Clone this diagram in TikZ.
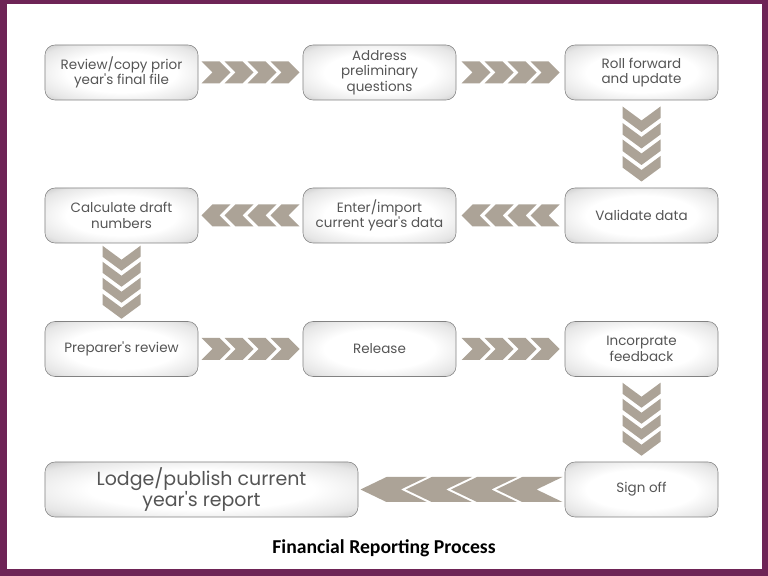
\documentclass[tikz,border=0pt]{standalone}
\usepackage{fontspec}
\setmainfont{Poppins}
\newfontfamily\titlefont{Carlito}
\usepackage{xcolor}
\usetikzlibrary{calc}
\definecolor{framepurple}{RGB}{110,36,86}
\definecolor{chevgray}{RGB}{172,163,151}
\definecolor{boxline}{RGB}{130,130,130}
\definecolor{boxtext}{RGB}{85,85,85}
\pgfdeclareradialshading{boxshade}{\pgfpoint{0bp}{0bp}}{color(0bp)=(white); color(18bp)=(white); color(30bp)=(black!10); color(40bp)=(black!30); color(50bp)=(black!45)}

\begin{document}
\begin{tikzpicture}[x=0.25mm, y=0.25mm,
  stage/.style={draw=boxline, rounded corners=2.5mm, shade, shading=boxshade,
    minimum width=38.25mm, minimum height=13.75mm, inner sep=1pt,
    align=center, text=boxtext, font=\fontsize{9.6}{11}\selectfont},
  pics/chevs/.style n args={3}{code={
    \pgfmathsetmacro\phalf{#2/2}
    \pgfmathsetmacro\pstep{(#1+5-#3)/4}
    \pgfmathsetmacro\pthick{\pstep-5}
    \foreach \k in {0,...,3}{
      \pgfmathsetmacro\xa{-#1/2+\k*\pstep}
      \fill[chevgray] (\xa,\phalf) -- ++(\pthick,0) -- ++(#3,-\phalf) -- ++(-#3,-\phalf)
        -- ++(-\pthick,0) -- ++(#3,\phalf) -- cycle;
    }
  }}]
\useasboundingbox (0,0) rectangle (768,576);
\fill[framepurple] (0,0) rectangle (768,576);
\fill[white] (7,7) rectangle (762,572);

% first row
\node[stage] (review) at (121.5,503.5) {Review/copy prior\\year\textquotesingle s final file};
\node[stage] (address) at (379.5,503.5) {Address\\preliminary\\questions};
\node[stage] (roll) at (641.5,503.5) {Roll forward\\and update};
% second row
\node[stage] (calc) at (121.5,360.5) {Calculate draft\\numbers};
\node[stage] (enter) at (379.5,360.5) {Enter/import\\current year\textquotesingle s data};
\node[stage] (validate) at (641.5,360.5) {Validate data};
% third row
\node[stage] (prep) at (121.5,227) {Preparer\textquotesingle s review};
\node[stage] (release) at (379.5,227) {Release};
\node[stage] (incorp) at (641.5,227) {Incorprate\\feedback};
% last row
\node[stage, minimum width=78.25mm, font=\fontsize{13.5}{15}\selectfont] (lodge) at (201.5,86.5) {Lodge/publish current\\year\textquotesingle s report};
\node[stage] (signoff) at (641.5,86.5) {Sign off};

% chevron arrows
\pic at ($(review.east)!.5!(address.west)$) {chevs={98}{22}{11}};
\pic at ($(address.east)!.5!(roll.west)$) {chevs={98}{22}{11}};
\pic[rotate=-90] at ($(roll.south)!.5!(validate.north)$) {chevs={75}{38}{14}};
\pic[rotate=180] at ($(validate.west)!.5!(enter.east)$) {chevs={98}{22}{11}};
\pic[rotate=180] at ($(enter.west)!.5!(calc.east)$) {chevs={98}{22}{11}};
\pic[rotate=-90] at ($(calc.south)!.5!(prep.north)$) {chevs={73}{38}{14}};
\pic at ($(prep.east)!.5!(release.west)$) {chevs={98}{22}{11}};
\pic at ($(release.east)!.5!(incorp.west)$) {chevs={98}{22}{11}};
\pic[rotate=-90] at ($(incorp.south)!.5!(signoff.north)$) {chevs={73}{38}{14}};
\pic[rotate=180] at ($(signoff.west)!.5!(lodge.east)$) {chevs={202}{25}{26}};

\node (title) at (384,28) {\titlefont\bfseries\fontsize{14}{16}\selectfont Financial Reporting Process};
\end{tikzpicture}
\end{document}
